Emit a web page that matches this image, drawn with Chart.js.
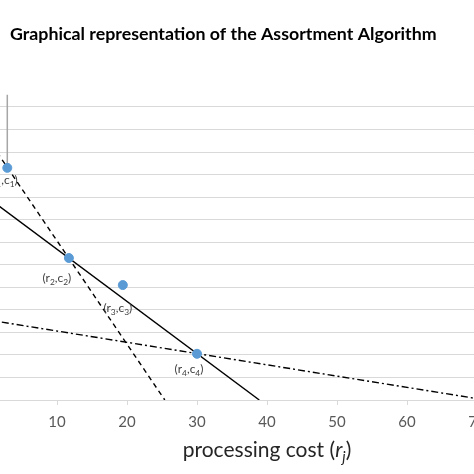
<!DOCTYPE html>
<html>
<head>
<meta charset="utf-8">
<script src="https://cdn.jsdelivr.net/npm/chart.js@4.4.0/dist/chart.umd.min.js"></script>
<style>
html,body{margin:0;padding:0;background:#fff;overflow:hidden;width:474px;height:474px;}
#wrap{position:absolute;left:-13px;top:0;width:560px;height:474px;}
</style>
</head>
<body>
<div id="wrap"><canvas id="chart" width="560" height="474"></canvas></div>
<script>
// points (r_i, c_i)
const pointIds = ['1', '2', '3', '4'];
const costR = [2.9, 11.7, 19.4, 30.0];
const valueC = [10.3, 6.3, 5.1, 2.05];

// lines of the algorithm
const solidX = [0, 38.9];
const solidY = [9.0, 0];
const dashedX = [0, 25.4];
const dashedY = [11.65, 0];
const dashDotX = [0, 71.2];
const dashDotY = [3.56, 0];
const vertX = [2.9, 2.9];
const vertY = [10.3, 13.55];

const xTicks = [0, 10, 20, 30, 40, 50, 60, 70, 80];
const xTickLabels = ['', '10', '20', '30', '40', '50', '60', '70', '']; // 0 and 80 fall outside the picture
const yMax = 13.55;

function toXY(xs, ys){
	let arr = [];
	for(let i=0; i<xs.length; i++){
		arr.push({x: xs[i], y: ys[i]});
	}
	return arr;
}

// draws text pieces, some of them subscript / italic
function drawParts(ctx, parts, x, y, size, family, color){
	ctx.save();
	ctx.fillStyle = color;
	ctx.textBaseline = 'alphabetic';
	ctx.textAlign = 'left';
	let w = 0;
	parts.forEach(p => {
		const s = p.sub ? size*0.7 : size;
		ctx.font = (p.italic ? 'italic ' : '') + s + 'px ' + family;
		p.w = ctx.measureText(p.t).width;
		w += p.w;
	});
	let cx = x - w/2;
	parts.forEach(p => {
		const s = p.sub ? size*0.7 : size;
		ctx.font = (p.italic ? 'italic ' : '') + s + 'px ' + family;
		ctx.fillText(p.t, cx, p.sub ? y + size*0.25 : y);
		cx += p.w;
	});
	ctx.restore();
}

const labelOffsets = [[-4, 16], [-12, 24], [-5, 27], [-8, 19]];

const textPlugin = {
	id: 'textPlugin',
	afterDraw(chart){
		const ctx = chart.ctx;
		const xs = chart.scales.x, ys = chart.scales.y;
		// title
		ctx.save();
		ctx.font = 'bold 17.8px Lato';
		ctx.fillStyle = '#000';
		ctx.textBaseline = 'middle';
		ctx.textAlign = 'left';
		ctx.fillText('Graphical representation of the Assortment Algorithm', 23, 34);
		ctx.restore();
		// point labels
		for(let i=0; i<pointIds.length; i++){
			const px = xs.getPixelForValue(costR[i]) + labelOffsets[i][0];
			const py = ys.getPixelForValue(valueC[i]) + labelOffsets[i][1];
			drawParts(ctx, [
				{t:'(r'}, {t:pointIds[i], sub:true}, {t:',c'}, {t:pointIds[i], sub:true}, {t:')'}
			], px, py, 12, 'Lato', '#404040');
		}
		// x axis title
		const cx = (chart.chartArea.left + chart.chartArea.right)/2;
		drawParts(ctx, [
			{t:'processing cost ('}, {t:'r', italic:true}, {t:'j', italic:true, sub:true}, {t:')'}
		], cx, 457, 21, 'Lato', '#262626');
	}
};

const ctx = document.querySelector('#chart');
const chart = new Chart(ctx, {
	type: 'scatter',
	data: {
		datasets: [{
			label: 'points',
			data: toXY(costR, valueC),
			backgroundColor: '#5b9bd5',
			borderColor: '#5b9bd5',
			pointRadius: 4.5,
			showLine: false
		},{
			label: 'solid',
			data: toXY(solidX, solidY),
			borderColor: '#000',
			borderWidth: 1.4,
			pointRadius: 0,
			showLine: true
		},{
			label: 'dashed',
			data: toXY(dashedX, dashedY),
			borderColor: '#000',
			borderWidth: 1.4,
			borderDash: [5, 4],
			pointRadius: 0,
			showLine: true
		},{
			label: 'dashdot',
			data: toXY(dashDotX, dashDotY),
			borderColor: '#000',
			borderWidth: 1.4,
			borderDash: [7, 3, 2, 3],
			pointRadius: 0,
			showLine: true
		},{
			label: 'vertical',
			data: toXY(vertX, vertY),
			borderColor: '#a6a6a6',
			borderWidth: 1.5,
			pointRadius: 0,
			showLine: true
		}]
	},
	options: {
		responsive: false,
		animation: false,
		layout: {autoPadding: false, padding: {top: 94.6, bottom: 35, left: 0, right: 0}},
		plugins: {legend: {display: false}, tooltip: {enabled: false}},
		scales: {
			x: {
				type: 'linear',
				min: 0,
				max: 80,
				afterBuildTicks: s => { s.ticks = xTicks.map(v => ({value: v})); },
				afterFit: s => { s.paddingLeft = 0; s.paddingRight = 0; },
				ticks: {
					color: '#595959', font: {family: 'Lato', size: 15}, padding: 8, maxRotation: 0,
					callback: (v, i) => xTickLabels[i]
				},
				grid: {drawOnChartArea: false, drawTicks: true, tickLength: 5, color: '#d9d9d9'},
				border: {color: '#d9d9d9', width: 1}
			},
			y: {
				min: 0,
				max: yMax,
				ticks: {display: false, stepSize: 1, includeBounds: false},
				grid: {color: '#d9d9d9', drawTicks: false},
				border: {display: false},
				afterFit: s => { s.width = 0; }
			}
		}
	},
	plugins: [textPlugin]
});
</script>
</body>
</html>
